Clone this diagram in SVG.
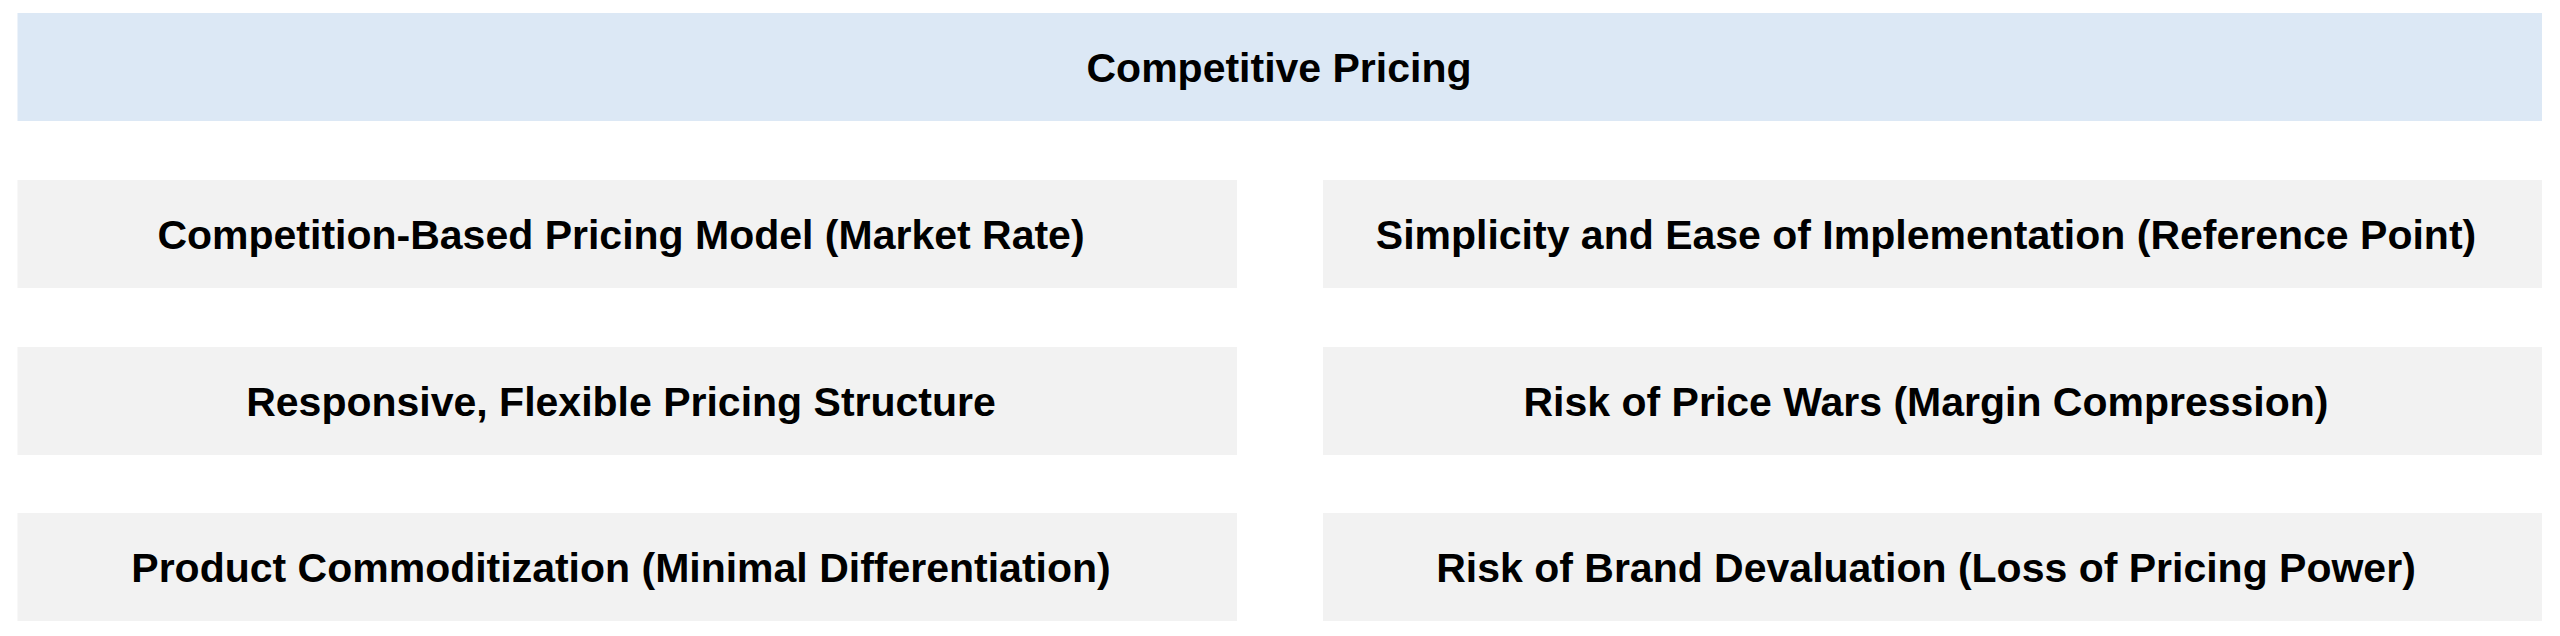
<svg xmlns="http://www.w3.org/2000/svg" width="2560" height="636" viewBox="0 0 2560 636">
<style>
.bg{fill:#ffffff}
.head{fill:#dce8f5}
.box{fill:#f2f2f2}
.t{font-family:"Liberation Sans",Arial,Helvetica,sans-serif;font-weight:bold;font-size:41px;fill:#000000;text-anchor:middle}
</style>
<rect class="bg" x="0" y="0" width="2560" height="636"/>
<g id="node-title">
<rect class="head" x="17.5" y="13" width="2524.5" height="108"/>
<text class="t" x="1279" y="82">Competitive Pricing</text>
</g>
<g id="node-r1c1">
<rect class="box" x="17.5" y="180" width="1219.5" height="108"/>
<text class="t" x="621" y="249">Competition-Based Pricing Model (Market Rate)</text>
</g>
<g id="node-r1c2">
<rect class="box" x="1323" y="180" width="1219" height="108"/>
<text class="t" x="1926" y="249">Simplicity and Ease of Implementation (Reference Point)</text>
</g>
<g id="node-r2c1">
<rect class="box" x="17.5" y="347" width="1219.5" height="108"/>
<text class="t" x="621" y="416">Responsive, Flexible Pricing Structure</text>
</g>
<g id="node-r2c2">
<rect class="box" x="1323" y="347" width="1219" height="108"/>
<text class="t" x="1926" y="416">Risk of Price Wars (Margin Compression)</text>
</g>
<g id="node-r3c1">
<rect class="box" x="17.5" y="513" width="1219.5" height="108"/>
<text class="t" x="621" y="582">Product Commoditization (Minimal Differentiation)</text>
</g>
<g id="node-r3c2">
<rect class="box" x="1323" y="513" width="1219" height="108"/>
<text class="t" x="1926" y="582">Risk of Brand Devaluation (Loss of Pricing Power)</text>
</g>
<g id="connectors"></g>
</svg>
